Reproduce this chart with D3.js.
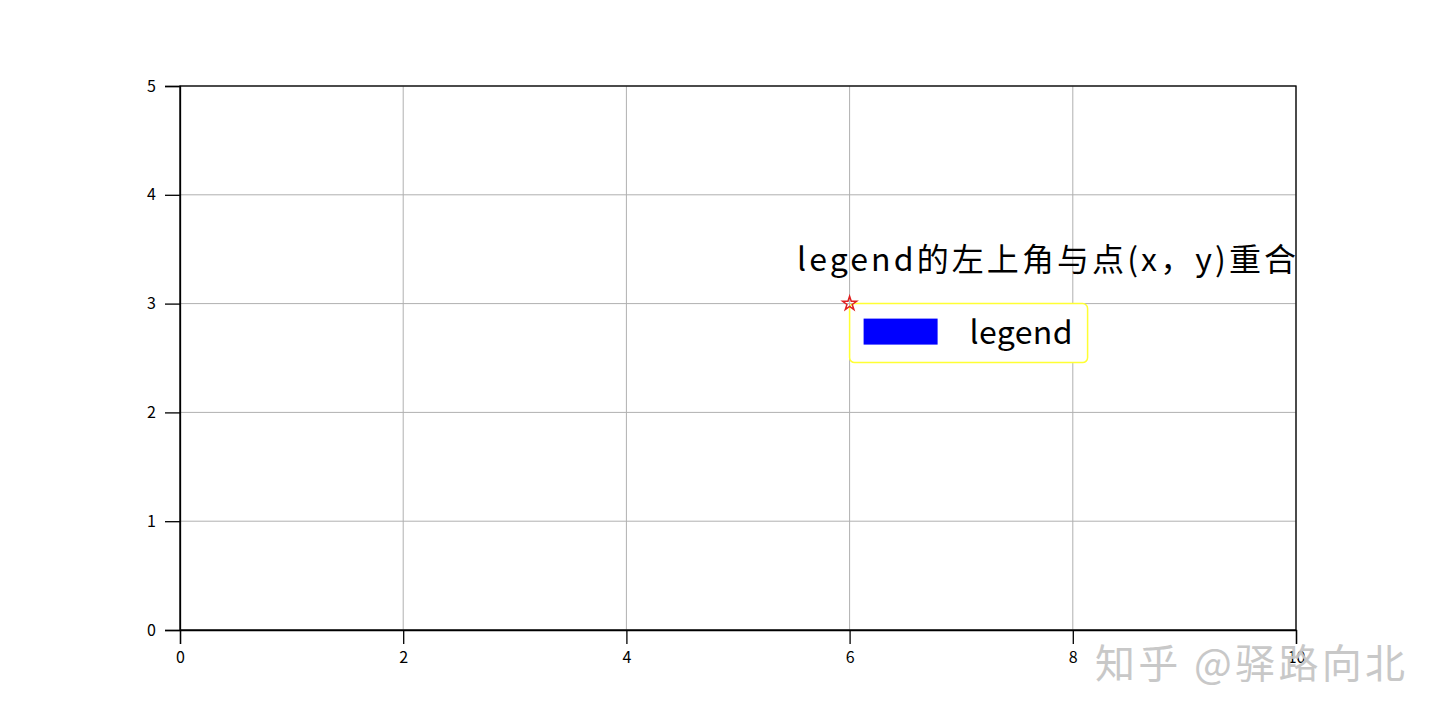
<!DOCTYPE html>
<html lang="zh">
  <head>
    <meta charset="UTF-8" />
    <title>legend 位置</title>
    <style>
      body {
        margin: 0;
        background: #fff;
      }
      text {
        font-family: "Noto Sans CJK SC", "DejaVu Sans", sans-serif;
      }
      .grid line {
        stroke: #b0b0b0;
        stroke-width: 1;
      }
      .axis path,
      .axis line {
        stroke: #000;
        stroke-width: 1.3;
      }
      .axis text {
        font-size: 16px;
        fill: #000;
      }
    </style>
  </head>
  <body>
    <svg width="1440" height="720"></svg>
    <script src="https://cdnjs.cloudflare.com/ajax/libs/d3/7.8.5/d3.min.js"></script>
    <script>
      // 数据
      const xDomain = [0, 10];
      const yDomain = [0, 5];
      const xTicks = [0, 2, 4, 6, 8, 10];
      const yTicks = [0, 1, 2, 3, 4, 5];
      const anchorPoint = [6, 3]; // legend 左上角
      const legendLabels = ["legend"];
      const legendColors = ["#0000ff"];
      const titleText = "legend的左上角与点(x，y)重合";
      const watermark = "知乎 @驿路向北";

      const svg = d3.select("svg");
      const mLeft = 180, mRight = 1296, mTop = 86, mBottom = 630;

      const x = d3.scaleLinear().domain(xDomain).range([mLeft, mRight]);
      const y = d3.scaleLinear().domain(yDomain).range([mBottom, mTop]);

      // 网格
      const grid = svg.append("g").attr("class", "grid");
      grid.selectAll(".gx")
        .data(xTicks)
        .enter()
        .append("line")
        .attr("x1", (d) => x(d))
        .attr("x2", (d) => x(d))
        .attr("y1", mTop)
        .attr("y2", mBottom);
      grid.selectAll(".gy")
        .data(yTicks)
        .enter()
        .append("line")
        .attr("x1", mLeft)
        .attr("x2", mRight)
        .attr("y1", (d) => y(d))
        .attr("y2", (d) => y(d));

      // 坐标轴
      svg.append("g")
        .attr("class", "axis")
        .attr("transform", `translate(0,${mBottom})`)
        .call(d3.axisBottom(x).tickValues(xTicks).tickSize(14).tickPadding(8).tickFormat(d3.format("d")));
      svg.append("g")
        .attr("class", "axis")
        .attr("transform", `translate(${mLeft},0)`)
        .call(d3.axisLeft(y).tickValues(yTicks).tickSize(15).tickPadding(9).tickFormat(d3.format("d")));
      svg.append("rect")
        .attr("x", mLeft)
        .attr("y", mTop)
        .attr("width", mRight - mLeft)
        .attr("height", mBottom - mTop)
        .attr("fill", "none")
        .attr("stroke", "#000")
        .attr("stroke-width", 1.3);

      // 标题
      svg.append("text")
        .attr("x", 797)
        .attr("y", 271)
        .attr("font-size", 32)
        .attr("textLength", 499)
        .attr("lengthAdjust", "spacing")
        .text(titleText);

      // 图例
      const lx = x(anchorPoint[0]), ly = y(anchorPoint[1]);
      const lg = svg.append("g").attr("transform", `translate(${lx},${ly})`);
      lg.append("rect")
        .attr("width", 238)
        .attr("height", 59)
        .attr("rx", 5)
        .attr("fill", "#fff")
        .attr("stroke", "#ffff33")
        .attr("stroke-width", 1.5);
      legendLabels.forEach((lab, i) => {
        lg.append("rect")
          .attr("x", 14)
          .attr("y", 15 + i * 30)
          .attr("width", 74)
          .attr("height", 26)
          .attr("fill", legendColors[i]);
        lg.append("text")
          .attr("x", 120)
          .attr("y", 40 + i * 30)
          .attr("font-size", 32)
          .attr("textLength", 103)
          .attr("lengthAdjust", "spacing")
          .text(lab);
      });

      // 点
      svg.append("path")
        .attr("d", d3.symbol().type(d3.symbolStar).size(60))
        .attr("transform", `translate(${lx},${ly})`)
        .attr("fill", "none")
        .attr("stroke", "#e02020")
        .attr("stroke-width", 1.5);

      // 水印
      svg.append("text")
        .attr("x", 1250)
        .attr("y", 678)
        .attr("text-anchor", "middle")
        .attr("font-size", 40)
        .attr("textLength", 310)
        .attr("lengthAdjust", "spacing")
        .attr("fill", "#c6c6c6")
        .attr("opacity", 0.95)
        .text(watermark);
    </script>
  </body>
</html>
